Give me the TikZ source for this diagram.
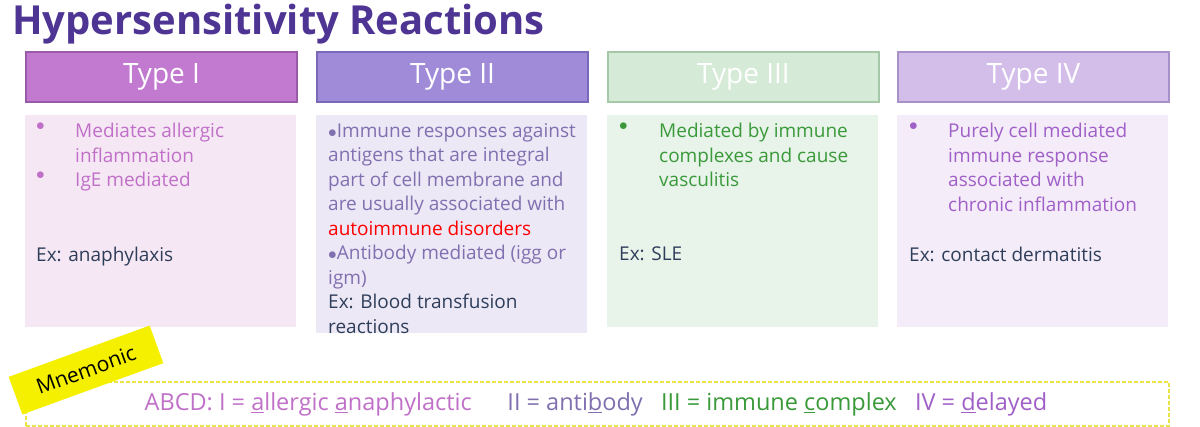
\documentclass[tikz,border=0pt]{standalone}
\usepackage{fontspec}
\setmainfont{Open Sans}
\begin{document}
\begin{tikzpicture}[x=1pt,y=-1pt,
  hdr/.style={draw, line width=2pt, minimum width=271pt, minimum height=50pt, anchor=north west, text=white, font=\fontsize{28}{32}\selectfont},
  body/.style={anchor=north west, minimum width=271pt, inner sep=0pt},
  txt/.style={anchor=north west, align=left, inner sep=0pt, font=\fontsize{19}{24.5}\selectfont}]
\definecolor{ttl}{HTML}{4E3594}
\definecolor{hA}{HTML}{C27AD0}\definecolor{bA}{HTML}{9A5AA8}
\definecolor{hB}{HTML}{A08BD8}\definecolor{bB}{HTML}{7A68B8}
\definecolor{hC}{HTML}{D5EAD7}\definecolor{bC}{HTML}{A5C8A8}
\definecolor{hD}{HTML}{D3BEEA}\definecolor{bD}{HTML}{A890C8}
\definecolor{fA}{HTML}{F6E7F4}\definecolor{fB}{HTML}{ECE8F6}
\definecolor{fC}{HTML}{E8F3EA}\definecolor{fD}{HTML}{F4ECF8}
\definecolor{tA}{HTML}{C070C8}\definecolor{tB}{HTML}{8070B0}
\definecolor{tC}{HTML}{3A9A3A}\definecolor{tD}{HTML}{A060C8}
\definecolor{ex}{HTML}{2E3E5A}\definecolor{yel}{HTML}{F4F000}
\definecolor{dash}{HTML}{E8E448}
\useasboundingbox[fill=white] (0,0) rectangle (1200,427);
\node[anchor=west, text=ttl, inner sep=0pt, font=\fontsize{40}{44}\selectfont\bfseries] (title) at (12,24) {Hypersensitivity Reactions};
% headers
\node[hdr, fill=hA, draw=bA] (h1) at (25,51) {Type I};
\node[hdr, fill=hB, draw=bB] (h2) at (316,51) {Type II};
\node[hdr, fill=hC, draw=bC] (h3) at (607,51) {Type III};
\node[hdr, fill=hD, draw=bD] (h4) at (897,51) {Type IV};
% bodies
\node[body, fill=fA, minimum height=212pt] (b1) at (25,115) {};
\node[body, fill=fB, minimum height=218pt] (b2) at (316,115) {};
\node[body, fill=fC, minimum height=212pt] (b3) at (607,115) {};
\node[body, fill=fD, minimum height=212pt] (b4) at (897,115) {};
% type I
\node[txt, text=tA] (t1a) at (36,123) {$\bullet$};
\node[txt, text=tA] (t1b) at (75,123) {Mediates allergic\\inflammation};
\node[txt, text=tA] (t1c) at (36,172) {$\bullet$};
\node[txt, text=tA] (t1d) at (75,172) {IgE mediated};
\node[txt, text=ex] (t1e) at (36,247) {Ex: anaphylaxis};
% type II
\node[txt, text=tB] (t2) at (328,123) {$\bullet$Immune responses against\\antigens that are integral\\part of cell membrane and\\are usually associated with\\\textcolor{red}{autoimmune disorders}\\$\bullet$Antibody mediated (igg or\\igm)\\\textcolor{ex}{Ex: Blood transfusion}\\\textcolor{ex}{reactions}};
% type III
\node[txt, text=tC] (t3a) at (619,123) {$\bullet$};
\node[txt, text=tC] (t3b) at (659,123) {Mediated by immune\\complexes and cause\\vasculitis};
\node[txt, text=ex] (t3c) at (619,247) {Ex: SLE};
% type IV
\node[txt, text=tD] (t4a) at (909,123) {$\bullet$};
\node[txt, text=tD] (t4b) at (948,123) {Purely cell mediated\\immune response\\associated with\\chronic inflammation};
\node[txt, text=ex] (t4c) at (909,247) {Ex: contact dermatitis};
% mnemonic
\node[draw=dash, dash pattern=on 4pt off 2pt, line width=1.8pt, anchor=north west, minimum width=1143pt, minimum height=44pt, inner sep=0pt] (mbox) at (25,381) {};
\node[font=\fontsize{23.5}{26}\selectfont] (mtext) at (596,404) {\textcolor{tA}{ABCD: I = \underline{a}llergic \underline{a}naphylactic}\quad\ \ \textcolor{tB}{II = anti\underline{b}ody}\ \ \ \textcolor{tC}{III = immune \underline{c}omplex}\ \ \ \textcolor{tD}{IV = \underline{d}elayed}};
\node[fill=yel, rotate=20, minimum width=150pt, minimum height=40pt, font=\fontsize{21}{23}\selectfont] (mn) at (86,370) {Mnemonic};
\end{tikzpicture}
\end{document}
